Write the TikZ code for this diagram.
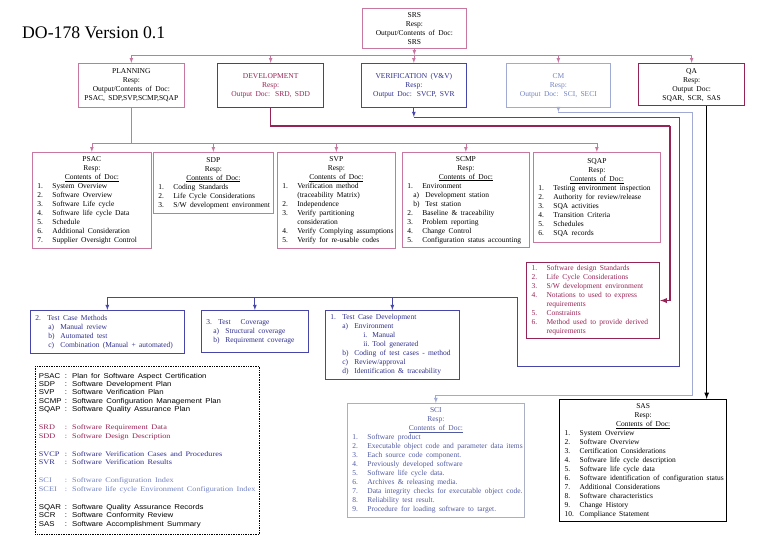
\documentclass[tikz,border=0pt]{standalone}
\usepackage{fontspec}
\setmainfont{Liberation Serif}
\newfontfamily\legsans{Liberation Sans}[FakeStretch=1.12]
\newfontfamily\legserif{Liberation Serif}[FakeStretch=1.18]
\usetikzlibrary{arrows}
\tikzset{>=latex}

\definecolor{pinkc}{RGB}{200,120,160}
\definecolor{devred}{RGB}{150,35,85}
\definecolor{vvblue}{RGB}{70,70,170}
\definecolor{vvtext}{RGB}{45,45,140}
\definecolor{cmblue}{RGB}{160,170,210}
\definecolor{cmtext}{RGB}{115,130,190}
\definecolor{scibord}{RGB}{170,175,195}
\definecolor{scitext}{RGB}{80,90,160}

\newcommand{\boxfont}{\fontsize{7.5}{9}\selectfont}
\newcommand{\hd}[1]{{\centering #1\par}}
\newcommand{\li}[2]{\mbox{\hspace*{3pt}\makebox[15pt][l]{#1}#2}}
\newcommand{\si}[4][12pt]{\mbox{\hspace*{#2}\makebox[#1][l]{#3}#4}}
\newcommand{\legitem}[2]{\makebox[26pt][l]{#1}: #2}

\tikzset{
  docbox/.style={draw=pinkc, line width=0.7pt, anchor=north west, inner xsep=2pt,
    inner ysep=2pt, align=left, execute at begin node=\boxfont},
  grpbox/.style={docbox, align=center},
  sized/.style 2 args={minimum width=#1pt, minimum height=#2pt, text width=#1pt-4pt},
  pinkline/.style={pinkc, line width=0.7pt},
  devline/.style={devred, line width=1.3pt},
  verline/.style={vvblue, line width=0.8pt},
  cmline/.style={cmblue, line width=0.8pt},
  qaline/.style={black, line width=1.2pt}
}

\begin{document}
\begin{tikzpicture}[x=1pt,y=-1pt]
  \useasboundingbox (0,0) rectangle (768,542);

  % Title
  \node[anchor=west, inner sep=0pt, font=\fontsize{17.7}{20}\selectfont] (title) at (22,33) {DO-178 Version 0.1};

  % Top box
  \node[grpbox, sized={104}{40}] (srs) at (362,8) {SRS\\Resp:\\Output/Contents of Doc:\\SRS};

  % Process boxes
  \node[grpbox, sized={106}{44}] (plan) at (78,63) {PLANNING\\Resp:\\Output/Contents of Doc:\\PSAC, SDP,SVP,SCMP,SQAP};
  \node[grpbox, sized={106}{44}, draw=devred, text=devred, line width=1.3pt] (dev) at (217,63) {DEVELOPMENT\\Resp:\\Output Doc: SRD, SDD};
  \node[grpbox, sized={105}{44}, draw=vvblue, text=vvtext] (ver) at (361,63) {VERIFICATION (V\&V)\\Resp:\\Output Doc: SVCP, SVR};
  \node[grpbox, sized={104}{44}, draw=cmblue, text=cmtext] (cm) at (506,63) {CM\\Resp:\\Output Doc: SCI, SECI};
  \node[grpbox, sized={106}{42}, draw=devred, line width=1.3pt] (qa) at (638,63) {QA\\Resp:\\Output Doc: SQAR, SCR, SAS};

  % SRS to process boxes
  \coordinate (bus1) at (0,55);
  \draw[pinkline,->] (srs.south) -- (srs.south |- bus1);
  \draw[pinkline] (plan.north |- bus1) -- (qa.north |- bus1);
  \draw[pinkline,->] (plan.north |- bus1) -- (plan.north);
  \draw[pinkline,->] (dev.north |- bus1) -- (dev.north);
  \draw[pinkline,->] (ver.north |- bus1) -- (ver.north);
  \draw[pinkline,->] (cm.north |- bus1) -- (cm.north);
  \draw[pinkline,->] (qa.north |- bus1) -- (qa.north);

  % Planning documents
  \node[docbox, sized={119}{96}] (psac) at (32,152) {\hd{PSAC\\Resp:\\\underline{Contents of Doc:}}
    \li{1.}{System Overview}\\
    \li{2.}{Software Overview}\\
    \li{3.}{Software Life cycle}\\
    \li{4.}{Software life cycle Data}\\
    \li{5.}{Schedule}\\
    \li{6.}{Additional Consideration}\\
    \li{7.}{Supplier Oversight Control}};
  \node[docbox, sized={120}{61}] (sdp) at (153,152) {\hd{SDP\\Resp:\\\underline{Contents of Doc:}}
    \li{1.}{Coding Standards}\\
    \li{2.}{Life Cycle Considerations}\\
    \li{3.}{S/W development environment}};
  \node[docbox, sized={118}{96}] (svp) at (277,152) {\hd{SVP\\Resp:\\\underline{Contents of Doc:}}
    \li{1.}{Verification method}\\
    \li{}{(traceability Matrix)}\\
    \li{2.}{Independence}\\
    \li{3.}{Verify partitioning}\\
    \li{}{consideration}\\
    \li{4.}{Verify Complying assumptions}\\
    \li{5.}{Verify for re-usable codes}};
  \node[docbox, sized={127}{95}] (scmp) at (402,152) {\hd{SCMP\\Resp:\\\underline{Contents of Doc:}}
    \li{1.}{Environment}\\
    \si{9pt}{a)}{Development station}\\
    \si{9pt}{b)}{Test station}\\
    \li{2.}{Baseline \& traceability}\\
    \li{3.}{Problem reporting}\\
    \li{4.}{Change Control}\\
    \li{5.}{Configuration status accounting}};
  \node[docbox, sized={127}{90}] (sqap) at (533,152) {\hd{SQAP\\Resp:\\\underline{Contents of Doc:}}
    \li{1.}{Testing environment inspection}\\
    \li{2.}{Authority for review/release}\\
    \li{3.}{SQA activities}\\
    \li{4.}{Transition Criteria}\\
    \li{5.}{Schedules}\\
    \li{6.}{SQA records}};

  \coordinate (bus2) at (0,143);
  \draw[pinkline] (plan.south) -- (plan.south |- bus2);
  \draw[pinkline] (psac.north |- bus2) -- (sqap.north |- bus2);
  \draw[pinkline,->] (psac.north |- bus2) -- (psac.north);
  \draw[pinkline,->] (sdp.north |- bus2) -- (sdp.north);
  \draw[pinkline,->] (svp.north |- bus2) -- (svp.north);
  \draw[pinkline,->] (scmp.north |- bus2) -- (scmp.north);
  \draw[pinkline,->] (sqap.north |- bus2) -- (sqap.north);

  % Development
  \node[docbox, sized={133}{76}, draw=devred, text=devred, line width=1.1pt] (rules) at (526,262) {
    \li{1.}{Software design Standards}\\
    \li{2.}{Life Cycle Considerations}\\
    \li{3.}{S/W development environment}\\
    \li{4.}{Notations to used to express}\\
    \li{}{requirements}\\
    \li{5.}{Constraints}\\
    \li{6.}{Method used to provide derived}\\
    \li{}{requirements}};
  \coordinate (devturn) at (670,126);
  \draw[devline] (dev.south) |- (devturn);
  \draw[devline,->] (devturn) |- (rules.east);

  % Verification
  \node[docbox, sized={154}{43}, draw=vvblue, text=vvtext] (tmeth) at (30,310) {
    \si{3pt}{2.}{Test Case Methods}\\
    \si{16pt}{a)}{Manual review}\\
    \si{16pt}{b)}{Automated test}\\
    \si{16pt}{c)}{Combination (Manual + automated)}};
  \node[docbox, sized={107}{42}, draw=vvblue, text=vvtext] (tcov) at (201,310) {
    \si{3pt}{3.}{Test~~~Coverage}\\
    \si{10pt}{a)}{Structural coverage}\\
    \si{10pt}{b)}{Requirement coverage}};
  \node[docbox, sized={134}{69}, draw=vvblue, text=vvtext] (tdev) at (325,310) {
    \si{3pt}{1.}{Test Case Development}\\
    \si{15pt}{a)}{Environment}\\
    \si[9pt]{36pt}{i.}{Manual}\\
    \si[9pt]{36pt}{ii.}{Tool generated}\\
    \si{15pt}{b)}{Coding of test cases - method}\\
    \si{15pt}{c)}{Review/approval}\\
    \si{15pt}{d)}{Identification \& traceability}};
  \coordinate (verturn) at (679,117);
  \coordinate (verlow) at (517,366);
  \coordinate (bus3) at (0,297);
  \draw[verline,->] (ver.south) -- (ver.south |- verturn);
  \draw[verline] (ver.south |- verturn) -- (verturn) |- (verlow) -- (verlow |- bus3) -- (tmeth.north |- bus3);
  \draw[verline,->] (tmeth.north |- bus3) -- (tmeth.north);
  \draw[verline,->] (tcov.north |- bus3) -- (tcov.north);
  \draw[verline,->] (tdev.north |- bus3) -- (tdev.north);

  % Configuration management
  \node[docbox, sized={177}{114}, draw=scibord, text=scitext] (sci) at (347,403) {\hd{SCI\\Resp:\\\underline{Contents of Doc:}}
    \li{1.}{Software product}\\
    \li{2.}{Executable object code and parameter data items}\\
    \li{3.}{Each source code component.}\\
    \li{4.}{Previously developed software}\\
    \li{5.}{Software life cycle data.}\\
    \li{6.}{Archives \& releasing media.}\\
    \li{7.}{Data integrity checks for executable object code.}\\
    \li{8.}{Reliability test result.}\\
    \li{9.}{Procedure for loading software to target.}};
  \coordinate (cmturn) at (692,112);
  \coordinate (bus4) at (0,395);
  \draw[cmline,->] (cm.south) -- (cm.south |- cmturn);
  \draw[cmline] (cm.south |- cmturn) -- (cmturn) |- (sci.north |- bus4);
  \draw[cmline,->] (sci.north |- bus4) -- (sci.north);

  % Quality assurance
  \node[docbox, sized={167}{122}, draw=black, line width=1.3pt] (sas) at (559,399) {\hd{SAS\\Resp:\\\underline{Contents of Doc:}}
    \li{1.}{System Overview}\\
    \li{2.}{Software Overview}\\
    \li{3.}{Certification Considerations}\\
    \li{4.}{Software life cycle description}\\
    \li{5.}{Software life cycle data}\\
    \li{6.}{Software identification of configuration status}\\
    \li{7.}{Additional Considerations}\\
    \li{8.}{Software characteristics}\\
    \li{9.}{Change History}\\
    \li{10.}{Compliance Statement}};
  \coordinate (qaout) at ([xshift=15pt]qa.south);
  \draw[qaline,->] (qaout) -- (qaout |- sas.north);

  % Abbreviations
  \node[docbox, sized={221}{168}, inner xsep=3.5pt, draw=black, densely dotted, line width=0.8pt,
    execute at begin node=\fontsize{7}{8.3}\selectfont] (legend) at (35,366) {\legsans
    \legitem{PSAC}{Plan for Software Aspect Certification}\\
    \legitem{SDP}{Software Development Plan}\\
    \legitem{SVP}{Software Verification Plan}\\
    \legitem{SCMP}{Software Configuration Management Plan}\\
    \legitem{SQAP}{Software Quality Assurance Plan}\\[10pt]
    \legserif\color{devred}
    \legitem{SRD}{Software Requirement Data}\\
    \legitem{SDD}{Software Design Description}\\[10pt]
    \color{vvtext}
    \legitem{SVCP}{Software Verification Cases and Procedures}\\
    \legitem{SVR}{Software Verification Results}\\[10pt]
    \color{cmtext}
    \legitem{SCI}{Software Configuration Index}\\
    \legitem{SCEI}{Software life cycle Environment Configuration Index}\\[10pt]
    \legsans\color{black}
    \legitem{SQAR}{Software Quality Assurance Records}\\
    \legitem{SCR}{Software Conformity Review}\\
    \legitem{SAS}{Software Accomplishment Summary}};
\end{tikzpicture}
\end{document}
